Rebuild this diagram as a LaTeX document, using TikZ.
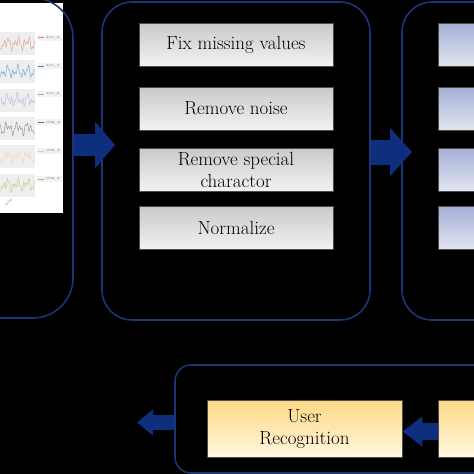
\documentclass[tikz,border=0pt]{standalone}
\usetikzlibrary{arrows.meta,calc}
\definecolor{navy}{HTML}{1C3578}
\definecolor{arrowc}{HTML}{0E2F7E}
\definecolor{cA}{HTML}{E0806E}
\definecolor{cB}{HTML}{4A88C0}
\definecolor{cC}{HTML}{A8A2D4}
\definecolor{cD}{HTML}{6E6E6E}
\definecolor{cE}{HTML}{E8CC90}
\definecolor{cF}{HTML}{A8C060}
\tikzset{
  panel/.style={draw=navy, line width=1.6pt, rounded corners=30pt, inner sep=0pt},
  bpanel/.style={draw=navy, line width=1.6pt, rounded corners=16pt, inner sep=0pt},
  txt/.style={font=\fontsize{19}{22}\selectfont, align=center, text=black, inner sep=0pt},
  graybox/.style={txt, draw=gray!60!black, line width=0.8pt, top color=gray!42, bottom color=gray!10, minimum width=194pt, minimum height=43pt},
  bluebox/.style={draw=gray!60!black, line width=0.8pt, top color={rgb,255:red,165;green,175;blue,214}, bottom color={rgb,255:red,226;green,229;blue,240}, minimum width=100pt, minimum height=43pt, inner sep=0pt},
  yelbox/.style={txt, draw=gray!60!black, line width=0.8pt, top color={rgb,255:red,253;green,216;blue,132}, bottom color={rgb,255:red,255;green,247;blue,222}, minimum height=57pt},
  blockarrow/.style={draw=arrowc, line width=#1},
  tiny/.style={font=\fontsize{2.8}{3}\selectfont, text=gray!70!black, inner sep=0pt, anchor=west}
}
\begin{document}
\begin{tikzpicture}[x=1pt,y=-1pt]
\useasboundingbox (0,0) rectangle (474,474);
\fill[black] (0,0) rectangle (474,474);

% left chart image
\node[fill=white, minimum width=68pt, minimum height=210pt, inner sep=0pt] (img) at (29,108) {};
\foreach \i/\c/\lab/\k in {0/cA/ACC\_X/0,1/cB/ACC\_Y/40,2/cC/ACC\_Z/80,3/cD/GYR\_X/120,4/cE/GYR\_Y/160,5/cF/GYR\_Z/200}{
  \pgfmathsetmacro{\cy}{43.5+28.3*\i}
  \fill[gray!13] (0,\cy-11.5) rectangle (35,\cy+11.5);
  \draw[\c!75!white, line width=0.45pt] plot[domain=0.5:34.5, samples=55] (\x, {\cy + 6*sin(53*\x + \k)*cos(17*\x+\k) + 2.5*sin(131*\x+2*\k)});
  \fill[gray!10] (37,\cy-9) rectangle (62,\cy-3);
  \draw[\c, line width=0.4pt] (38,\cy-6) -- (44,\cy-6);
  \node[tiny] at (46,\cy-6) {\lab};
}
\node[tiny, rotate=45] at (5,206) {16000};

% panels
\node[panel, rounded corners=40pt, minimum width=150pt, minimum height=320pt] (p1) at (-2,158) {};
\node[panel, minimum width=268pt, minimum height=318pt] (p2) at (236,161) {};
\node[panel, minimum width=160pt, minimum height=318pt] (p3) at (482,161) {};
\node[bpanel, minimum width=340pt, minimum height=108pt] (p4) at (345,419) {};

% gray boxes
\node[graybox] (g1) at (236,44.5) {Fix missing values};
\node[graybox] (g2) at (236,108.5) {Remove noise};
\node[graybox] (g3) at (236,169.5) {Remove special\\charactor};
\node[graybox] (g4) at (236,228) {Normalize};

% blue boxes
\node[bluebox] (b1) at (488,44.5) {};
\node[bluebox] (b2) at (488,108.5) {};
\node[bluebox] (b3) at (488,169.5) {};
\node[bluebox] (b4) at (488,228) {};

% yellow boxes
\node[yelbox, minimum width=195pt] (y1) at (304.5,428.5) {User\\Recognition};
\node[yelbox, minimum width=120pt] (y2) at (498,428.5) {};

% arrows
\coordinate (a1s) at (p1.east |- 0,145);
\coordinate (a1e) at (115,145);
\draw[blockarrow=22pt, -{Triangle[length=20pt,width=46pt]}] (a1s) -- (a1e);
\coordinate (a2s) at (p2.east |- 0,152);
\coordinate (a2e) at (412,152);
\draw[blockarrow=25pt, -{Triangle[length=22pt,width=47pt]}] (a2s) -- (a2e);
\coordinate (a3s) at (y2.west |- 0,431.5);
\draw[blockarrow=17pt, -{Triangle[length=20pt,width=29pt]}] (a3s) -- (y1.east |- a3s);
\coordinate (a4s) at (p4.west |- 0,422.5);
\coordinate (a4e) at (137,422.5);
\draw[blockarrow=15pt, -{Triangle[length=16pt,width=25pt]}] (a4s) -- (a4e);
\end{tikzpicture}
\end{document}
